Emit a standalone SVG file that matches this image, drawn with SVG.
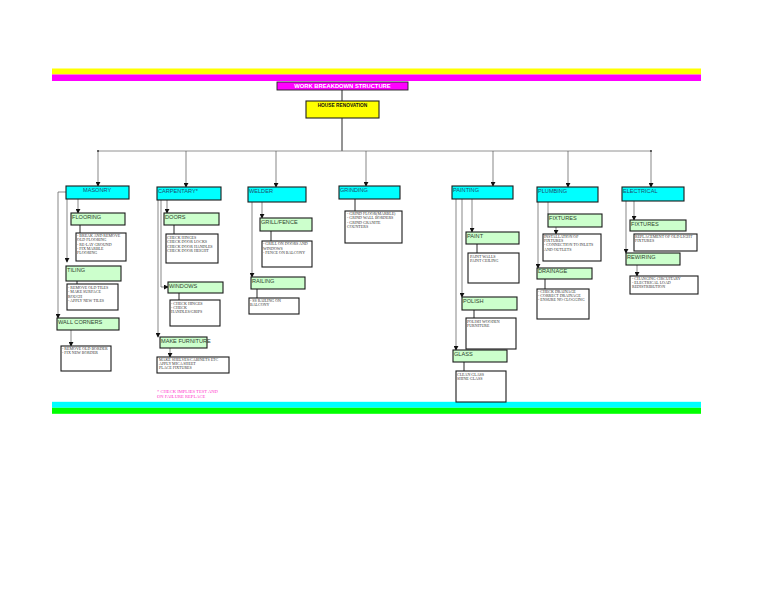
<svg xmlns="http://www.w3.org/2000/svg" width="768" height="594" viewBox="0 0 768 594">
<style>
.l1{fill:#00ffff;stroke:#1a1a1a;stroke-width:1.1}
.l2{fill:#ccffcc;stroke:#1a1a1a;stroke-width:1.1}
.dt{fill:#ffffff;stroke:#1a1a1a;stroke-width:1.1}
.t1{font-family:"Liberation Sans",Arial,sans-serif;font-size:5.6px;fill:#1f4f6f}
.t2{font-family:"Liberation Sans",Arial,sans-serif;font-size:5.6px;fill:#2f3f2f}
.td{font-family:"Liberation Serif","Times New Roman",serif;font-size:4px;fill:#333}
.c{fill:none;stroke:#777;stroke-width:0.8}
.k{fill:none;stroke:#111;stroke-width:0.9}
.ca{fill:none;stroke:#555;stroke-width:0.7;marker-end:url(#ah)}
</style>
<defs>
<marker id="ah" viewBox="0 0 6 6" refX="5" refY="3" markerWidth="5" markerHeight="5" orient="auto" markerUnits="userSpaceOnUse">
<path d="M0,0 L6,3 L0,6 Z" fill="#111"/>
</marker>
</defs>
<rect width="768" height="594" fill="#ffffff"/>
<rect x="52" y="68.5" width="649" height="6" fill="#ffff00"/>
<rect x="52" y="74.5" width="649" height="6.5" fill="#ff00ff"/>
<rect x="52" y="401.8" width="649" height="6" fill="#00ffff"/>
<rect x="52" y="407.8" width="649" height="6" fill="#00ff00"/>

<g id="connectors">
<line class="k" x1="342" y1="90" x2="342" y2="101"/>
<line class="k" x1="342" y1="118" x2="342" y2="151"/>
<line class="c" x1="98" y1="151" x2="651" y2="151"/>
<circle cx="98" cy="151" r="1" fill="#333"/>
<circle cx="651" cy="151" r="1" fill="#333"/>
<line class="ca" x1="98" y1="151" x2="98" y2="186"/>
<line class="ca" x1="186" y1="151" x2="186" y2="187"/>
<line class="ca" x1="276" y1="151" x2="276" y2="187"/>
<line class="ca" x1="366" y1="151" x2="366" y2="186"/>
<line class="ca" x1="493" y1="151" x2="493" y2="186"/>
<line class="ca" x1="568" y1="151" x2="568" y2="187"/>
<line class="ca" x1="651" y1="151" x2="651" y2="187"/>
<line class="ca" x1="78" y1="199" x2="78" y2="213"/>
<line class="ca" x1="67" y1="199" x2="67" y2="262"/>
<polyline class="ca" points="66,192 58,192 58,318"/>
<line class="k" x1="80" y1="225" x2="80" y2="233"/>
<line class="k" x1="77" y1="281" x2="77" y2="284"/>
<line class="ca" x1="71" y1="330" x2="71" y2="346"/>
<line class="ca" x1="167" y1="200" x2="167" y2="213"/>
<polyline class="ca" points="161,200 161,287 168,287"/>
<line class="ca" x1="158" y1="200" x2="158" y2="337"/>
<line class="k" x1="174" y1="225" x2="174" y2="234"/>
<line class="k" x1="179" y1="293" x2="179" y2="300"/>
<line class="ca" x1="170" y1="348" x2="170" y2="357"/>
<line class="ca" x1="262" y1="202" x2="262" y2="218"/>
<line class="ca" x1="252" y1="202" x2="252" y2="277"/>
<line class="k" x1="271" y1="231" x2="271" y2="241"/>
<line class="k" x1="257" y1="289" x2="257" y2="298"/>
<line class="k" x1="355" y1="199" x2="355" y2="211"/>
<line class="ca" x1="472" y1="199" x2="472" y2="232"/>
<line class="ca" x1="462" y1="199" x2="462" y2="297"/>
<line class="ca" x1="456" y1="199" x2="456" y2="350"/>
<line class="k" x1="477" y1="244" x2="477" y2="253"/>
<line class="k" x1="474" y1="310" x2="474" y2="318"/>
<line class="k" x1="464" y1="362" x2="464" y2="371"/>
<line class="c" x1="548" y1="202" x2="548" y2="214"/>
<line class="ca" x1="556" y1="227" x2="556" y2="234"/>
<line class="ca" x1="538" y1="202" x2="538" y2="268"/>
<line class="k" x1="545" y1="279" x2="545" y2="289"/>
<line class="ca" x1="634" y1="201" x2="634" y2="220"/>
<line class="ca" x1="626" y1="201" x2="626" y2="253"/>
<line class="ca" x1="637" y1="265" x2="637" y2="276"/>
</g>

<g id="title">
<rect x="277" y="82" width="131" height="8" fill="#ff00ff" stroke="#222" stroke-width="0.9"/>
<text x="342.5" y="88.2" text-anchor="middle" font-family="Liberation Sans,Arial,sans-serif" font-size="5.8" font-weight="bold" fill="#ffffff">WORK BREAKDOWN STRUCTURE</text>
</g>
<g id="house">
<rect x="306" y="101" width="73" height="17" fill="#ffff00" stroke="#222" stroke-width="1.1"/>
<text x="342.5" y="107" text-anchor="middle" font-family="Liberation Sans,Arial,sans-serif" font-size="4.8" font-weight="bold" fill="#111">HOUSE RENOVATION</text>
</g>

<g id="masonry">
<rect class="l1" x="66" y="186" width="63" height="13"/>
<text class="t1" x="83" y="192">MASONRY</text>
</g>
<g id="flooring">
<rect class="l2" x="71" y="213" width="54" height="12"/>
<text class="t2" x="72" y="219">FLOORING</text>
<rect class="dt" x="76" y="233" width="50" height="28"/>
<text class="td" x="77" y="237">- BREAK AND REMOVE</text>
<text class="td" x="77" y="241">OLD FLOORING</text>
<text class="td" x="77" y="245.5">- RE-LAY GROUND</text>
<text class="td" x="77" y="249.5">- FIX MARBLE</text>
<text class="td" x="77" y="254">FLOORING</text>
</g>
<g id="tiling">
<rect class="l2" x="66" y="266" width="55" height="15"/>
<text class="t2" x="67" y="272">TILING</text>
<rect class="dt" x="67" y="284" width="51" height="26"/>
<text class="td" x="68" y="289">- REMOVE OLD TILES</text>
<text class="td" x="68" y="293">- MAKE SURFACE</text>
<text class="td" x="68" y="297.5">ROUGH</text>
<text class="td" x="68" y="301.5">- APPLY NEW TILES</text>
</g>
<g id="wallcorners">
<rect class="l2" x="57" y="318" width="62" height="12"/>
<text class="t2" x="58" y="323.5">WALL CORNERS</text>
<rect class="dt" x="61" y="346" width="50" height="25"/>
<text class="td" x="62" y="350">- REMOVE OLD BORDER</text>
<text class="td" x="62" y="354">- FIX NEW BORDER</text>
</g>

<g id="carpentary">
<rect class="l1" x="157" y="187" width="64" height="13"/>
<text class="t1" x="158" y="192.5">CARPENTARY*</text>
</g>
<g id="doors">
<rect class="l2" x="164" y="213" width="55" height="12"/>
<text class="t2" x="165" y="219">DOORS</text>
<rect class="dt" x="166" y="234" width="52" height="29"/>
<text class="td" x="167" y="239">CHECK HINGES</text>
<text class="td" x="167" y="243">CHECK DOOR LOCKS</text>
<text class="td" x="167" y="247.5">CHECK DOOR HANDLES</text>
<text class="td" x="167" y="251.5">CHECK DOOR HEIGHT</text>
</g>
<g id="windows">
<rect class="l2" x="168" y="282" width="55" height="11"/>
<text class="t2" x="169" y="287.5">WINDOWS</text>
<rect class="dt" x="170" y="300" width="50" height="26"/>
<text class="td" x="171" y="304.5">- CHECK HINGES</text>
<text class="td" x="171" y="308.5">- CHECK</text>
<text class="td" x="171" y="313">HANDLES/GRIPS</text>
</g>
<g id="makefurniture">
<rect class="l2" x="160" y="337" width="47" height="11"/>
<text class="t2" x="161" y="342.5">MAKE FURNITURE</text>
<rect class="dt" x="157" y="357" width="72" height="16"/>
<text class="td" x="159" y="360.5">MAKE SHELVES/CABINETS ETC</text>
<text class="td" x="159" y="365">APPLY MICA SHEET</text>
<text class="td" x="159" y="369">PLACE FIXTURES</text>
</g>
<g id="note">
<text x="157" y="392.5" font-family="Liberation Serif,Times New Roman,serif" font-size="4.6" fill="#ff33cc">* CHECK IMPLIES TEST AND</text>
<text x="157" y="398" font-family="Liberation Serif,Times New Roman,serif" font-size="4.6" fill="#ff33cc">ON FAILURE REPLACE</text>
</g>

<g id="welder">
<rect class="l1" x="248" y="187" width="58" height="15"/>
<text class="t1" x="249" y="192.5">WELDER</text>
</g>
<g id="grillfence">
<rect class="l2" x="260" y="218" width="52" height="13"/>
<text class="t2" x="261" y="223.5">GRILL/FENCE</text>
<rect class="dt" x="262" y="241" width="50" height="26"/>
<text class="td" x="263" y="245">- GRILL ON DOORS AND</text>
<text class="td" x="263" y="249.5">WINDOWS</text>
<text class="td" x="263" y="253.5">- FENCE ON BALCONY</text>
</g>
<g id="railing">
<rect class="l2" x="251" y="277" width="54" height="12"/>
<text class="t2" x="252" y="282.5">RAILING</text>
<rect class="dt" x="249" y="298" width="50" height="16"/>
<text class="td" x="250" y="302">- SS RAILING ON</text>
<text class="td" x="250" y="306">BALCONY</text>
</g>

<g id="grinding">
<rect class="l1" x="339" y="186" width="61" height="13"/>
<text class="t1" x="340" y="191.5">GRINDING</text>
<rect class="dt" x="345" y="211" width="57" height="32"/>
<text class="td" x="347" y="215">- GRIND FLOOR(MARBLE)</text>
<text class="td" x="347" y="219">- GRIND WALL BORDERS</text>
<text class="td" x="347" y="223.5">- GRIND GRANITE</text>
<text class="td" x="347" y="227.5">COUNTERS</text>
</g>

<g id="painting">
<rect class="l1" x="452" y="186" width="61" height="13"/>
<text class="t1" x="453" y="191.5">PAINTING</text>
</g>
<g id="paint">
<rect class="l2" x="466" y="232" width="53" height="12"/>
<text class="t2" x="467" y="237.5">PAINT</text>
<rect class="dt" x="468" y="253" width="51" height="30"/>
<text class="td" x="470" y="257.5">PAINT WALLS</text>
<text class="td" x="470" y="261.5">PAINT CEILING</text>
</g>
<g id="polish">
<rect class="l2" x="462" y="297" width="55" height="13"/>
<text class="t2" x="463" y="302.5">POLISH</text>
<rect class="dt" x="466" y="318" width="50" height="31"/>
<text class="td" x="467" y="322.5">POLISH WOODEN</text>
<text class="td" x="467" y="326.5">FURNITURE</text>
</g>
<g id="glass">
<rect class="l2" x="453" y="350" width="54" height="12"/>
<text class="t2" x="454" y="355.5">GLASS</text>
<rect class="dt" x="456" y="371" width="50" height="31"/>
<text class="td" x="457" y="375.5">CLEAN GLASS</text>
<text class="td" x="457" y="379.5">SHINE GLASS</text>
</g>

<g id="plumbing">
<rect class="l1" x="537" y="187" width="61" height="15"/>
<text class="t1" x="538" y="192.5">PLUMBING</text>
</g>
<g id="plumbfixtures">
<rect class="l2" x="548" y="214" width="54" height="13"/>
<text class="t2" x="549" y="219.5">FIXTURES</text>
<rect class="dt" x="543" y="234" width="58" height="27"/>
<text class="td" x="544" y="238">INSTALLATION OF</text>
<text class="td" x="544" y="242">FIXTURES</text>
<text class="td" x="544" y="246">- CONNECTION TO INLETS</text>
<text class="td" x="544" y="250.5">AND OUTLETS</text>
</g>
<g id="drainage">
<rect class="l2" x="537" y="268" width="55" height="11"/>
<text class="t2" x="538" y="273">DRAINAGE</text>
<rect class="dt" x="537" y="289" width="52" height="30"/>
<text class="td" x="538" y="292.5">- CHECK DRAINAGE</text>
<text class="td" x="538" y="296.5">- CORRECT DRAINAGE</text>
<text class="td" x="538" y="300.5">- ENSURE NO CLOGGING</text>
</g>

<g id="electrical">
<rect class="l1" x="622" y="187" width="62" height="14"/>
<text class="t1" x="623" y="192.5">ELECTRICAL</text>
</g>
<g id="elecfixtures">
<rect class="l2" x="630" y="220" width="56" height="11"/>
<text class="t2" x="631" y="225.5">FIXTURES</text>
<rect class="dt" x="634" y="234" width="63" height="17"/>
<text class="td" x="635" y="238">REPLACEMENT OF OLD LIGHT</text>
<text class="td" x="635" y="242">FIXTURES</text>
</g>
<g id="rewiring">
<rect class="l2" x="626" y="253" width="54" height="12"/>
<text class="t2" x="627" y="258.5">REWIRING</text>
<rect class="dt" x="630" y="276" width="68" height="18"/>
<text class="td" x="632" y="279.5">- CHANGING CIRCUITARY</text>
<text class="td" x="632" y="283.5">- ELECTRICAL LOAD</text>
<text class="td" x="632" y="287.5">REDISTRIBUTION</text>
</g>
</svg>
